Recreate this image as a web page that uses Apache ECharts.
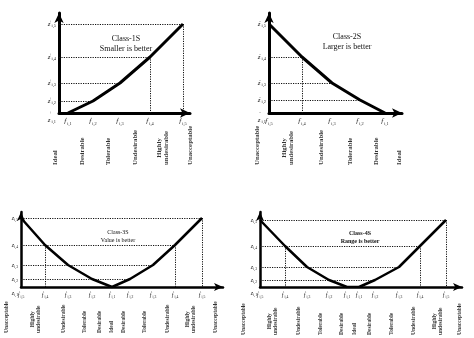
<!DOCTYPE html>
<html><head><meta charset="utf-8">
<script src="https://cdn.jsdelivr.net/npm/echarts@6/dist/echarts.min.js"></script>
<style>html,body{margin:0;padding:0;background:#fff}#c{width:474px;height:338px}</style>
</head><body><div id="c"></div>
<script>
// ---------------- data ----------------
// Class-1S : Smaller is better   (points f+_{i,1..5}, z+_{i,1..5})
const c1F = [9, 34, 61, 91, 124];
const c1Z = [0, 12, 30, 56, 89];
const c1Sub = [1, 2, 3, 4, 5];
const c1Cats = ['Ideal', 'Desirable', 'Tolerable', 'Undesirable', 'Highly\nundesirable', 'Unacceptable'];
const c1CatX = [-4, 23, 49, 76, 104, 131];
const c1HGuides = [1, 2, 3, 4];
const c1VGuides = [3, 4];

// Class-2S : Larger is better   (points f-_{i,5..1})
const c2F = [0, 33, 63, 91, 116];
const c2Z = [89, 56, 30, 13, 0];
const c2Sub = [5, 4, 3, 2, 1];
const c2Cats = ['Unacceptable', 'Highly\nundesirable', 'Undesirable', 'Tolerable', 'Desirable', 'Ideal'];
const c2CatX = [-12, 19, 52, 81, 107, 130];
const c2HGuides = [1, 2, 3];
const c2VGuides = [1];

// Class-3S : Value is better
const c3F = [0, 24, 47, 71, 91, 109, 132, 154, 181];
const c3Z = [69, 42, 22, 8, 0, 8, 22, 42, 69];
const c3Sub = [5, 4, 3, 2, 1, 2, 3, 4, 5];
const c3Cats = ['Unacceptable', 'Highly\nundesirable', 'Undesirable', 'Tolerable', 'Desirable', 'Ideal',
                'Desirable', 'Tolerable', 'Undesirable', 'Highly\nundesirable', 'Unacceptable'];
const c3CatX = [-14, 15, 43, 64, 79, 91, 103, 124, 147, 170, 195];
const c3HGuides = [5, 6, 7, 8];
const c3VGuides = [1, 7, 8];

// Class-4S : Range is better
const c4F = [0, 25, 47, 69, 87, 99, 115, 139, 160, 186];
const c4Z = [67, 41, 20, 7, 0, 0, 7, 20, 41, 67];
const c4Sub = [5, 4, 3, 2, 1, 1, 2, 3, 4, 5];
const c4Cats = ['Unacceptable', 'Highly\nundesirable', 'Undesirable', 'Tolerable', 'Desirable', 'Ideal',
                'Desirable', 'Tolerable', 'Undesirable', 'Highly\nundesirable', 'Unacceptable'];
const c4CatX = [-16, 13, 39, 61, 82, 95, 110, 132, 154, 178, 200];
const c4HGuides = [6, 7, 8, 9];
const c4VGuides = [1, 8, 9];

// ---------------- layout / style ----------------
const FONT = 'Liberation Serif';
const panels = [
  {F: c1F, Z: c1Z, sub: c1Sub, cats: c1Cats, catX: c1CatX, H: c1HGuides, V: c1VGuides,
   grid: {left: 59, top: 13, width: 131, height: 100}, fs: 7, catFs: 6.8, catLh: 7, catDrop: 52,
   fSup: '+', zSup: '+', axisW: 3, curveW: 3, arrow: [7, 10],
   title: ['Class-1S', 'Smaller is better'], tx: 121, ty: 29, tfs: 8, tBold: false},
  {F: c2F, Z: c2Z, sub: c2Sub, cats: c2Cats, catX: c2CatX, H: c2HGuides, V: c2VGuides,
   grid: {left: 269, top: 13, width: 133, height: 100}, fs: 7, catFs: 6.8, catLh: 7, catDrop: 52,
   fSup: '\u2212', zSup: '\u2212', axisW: 3, curveW: 3, arrow: [7, 10],
   title: ['Class-2S', 'Larger is better'], tx: 342, ty: 27, tfs: 8, tBold: false},
  {F: c3F, Z: c3Z, sub: c3Sub, cats: c3Cats, catX: c3CatX, H: c3HGuides, V: c3VGuides,
   grid: {left: 21, top: 212, width: 202, height: 75}, fs: 6, catFs: 5.5, catLh: 6, catDrop: 46,
   fSup: "'", zSup: '', axisW: 2.5, curveW: 2.5, arrow: [6, 9],
   title: ['Class-3S', 'Value is better'], tx: 113, ty: 224, tfs: 6, tBold: false},
  {F: c4F, Z: c4Z, sub: c4Sub, cats: c4Cats, catX: c4CatX, H: c4HGuides, V: c4VGuides,
   grid: {left: 260, top: 212, width: 202, height: 75}, fs: 6, catFs: 5.5, catLh: 6, catDrop: 48,
   fSup: "'", zSup: '', axisW: 2.5, curveW: 2.5, arrow: [6, 9],
   title: ['Class-4S', 'Range is better'], tx: 355, ty: 225, tfs: 6, tBold: true}
];

function richFor(fs) {
  const base = {fontFamily: FONT, color: '#222'};
  const small = fs * 0.62;
  return {
    m: Object.assign({}, base, {fontSize: fs, fontStyle: 'italic'}),
    u: Object.assign({}, base, {fontSize: small, width: 1, padding: [0, 0, fs * 0.7, 0]}),
    d: Object.assign({}, base, {fontSize: small, padding: [fs * 0.6, 0, 0, 0]}),
    m0: Object.assign({}, base, {fontSize: fs, fontStyle: 'italic', padding: [fs * 2, 0, 0, 0]}),
    u0: Object.assign({}, base, {fontSize: small, width: 1, padding: [fs * 0.6, 0, fs * 0.7, 0]}),
    d0: Object.assign({}, base, {fontSize: small, padding: [fs * 2.6, 0, 0, 0]})
  };
}
function sym(letter, sup, sub, low) {
  const s = low ? '0' : '';
  return '{m' + s + '|' + letter + '}' + (sup ? '{u' + s + '|' + sup + '}' : '') + '{d' + s + '|i,' + sub + '}';
}

const option = {animation: false, backgroundColor: '#fff', grid: [], xAxis: [], yAxis: [], series: [], title: []};

panels.forEach((p, k) => {
  option.grid.push(p.grid);
  const fMap = {}; p.F.forEach((f, i) => { if (!(f in fMap)) fMap[f] = p.sub[i]; });
  const zMap = {}; p.Z.forEach((z, i) => { if (!(z in zMap)) zMap[z] = p.sub[i]; });
  const rich = richFor(p.fs);
  option.xAxis.push({
    gridIndex: k, type: 'value', min: 0, max: p.grid.width,
    splitLine: {show: false}, axisTick: {show: false},
    axisLine: {onZero: false, symbol: ['none', 'arrow'], symbolSize: p.arrow,
               lineStyle: {color: '#000', width: p.axisW}},
    axisLabel: {customValues: Object.keys(fMap).map(Number), margin: 4, rich: rich,
                formatter: v => sym('f', p.fSup, fMap[v], false)}
  });
  option.yAxis.push({
    gridIndex: k, type: 'value', min: 0, max: p.grid.height,
    splitLine: {show: false}, axisTick: {show: false},
    axisLine: {onZero: false, symbol: ['none', 'arrow'], symbolSize: p.arrow,
               lineStyle: {color: '#000', width: p.axisW}},
    axisLabel: {customValues: Object.keys(zMap).map(Number), margin: 3, rich: rich,
                formatter: v => sym('z', p.zSup, zMap[v], v === 0)}
  });
  // guides
  const guides = [];
  p.H.forEach(i => guides.push({coords: [[0, p.Z[i]], [p.F[i], p.Z[i]]]}));
  p.V.forEach(i => guides.push({coords: [[p.F[i], p.Z[i]], [p.F[i], 0]]}));
  option.series.push({
    type: 'lines', coordinateSystem: 'cartesian2d', xAxisIndex: k, yAxisIndex: k, silent: true,
    lineStyle: {color: '#111', width: 1, type: [1.2, 1.2], opacity: 1, curveness: 0}, data: guides, z: 1
  });
  // curve
  option.series.push({
    type: 'line', xAxisIndex: k, yAxisIndex: k, silent: true, symbol: 'none',
    lineStyle: {color: '#000', width: p.curveW}, data: p.F.map((f, i) => [f, p.Z[i]]), z: 3
  });
  // category labels (rotated)
  const crich = {c: {align: 'center', fontSize: p.catFs, fontWeight: 'bold', fontFamily: FONT, color: '#000', lineHeight: p.catLh}};
  option.series.push({
    type: 'scatter', xAxisIndex: k, yAxisIndex: k, silent: true, clip: false, symbolSize: 0,
    data: p.cats.map((n, i) => ({name: n, value: [p.catX[i], -p.catDrop]})),
    label: {show: true, position: 'inside', rotate: 90, align: 'left', verticalAlign: 'middle',
            fontSize: p.catFs, fontWeight: 'bold', fontFamily: FONT, color: '#000', lineHeight: p.catLh,
            rich: crich,
            formatter: q => q.name.indexOf('\n') >= 0 ? q.name.split('\n').map(s => '{c|' + s + '}').join('\n') : q.name}
  });
  option.title.push({
    text: p.title.join('\n'), left: p.tx, top: p.ty, textAlign: 'center',
    textStyle: {fontFamily: FONT, fontSize: p.tfs, fontWeight: p.tBold ? 'bold' : 'normal', color: '#111', lineHeight: p.tfs * 1.25}
  });
});

const chart = echarts.init(document.getElementById('c'), null, {renderer: 'canvas'});
chart.setOption(option);
</script></body></html>
